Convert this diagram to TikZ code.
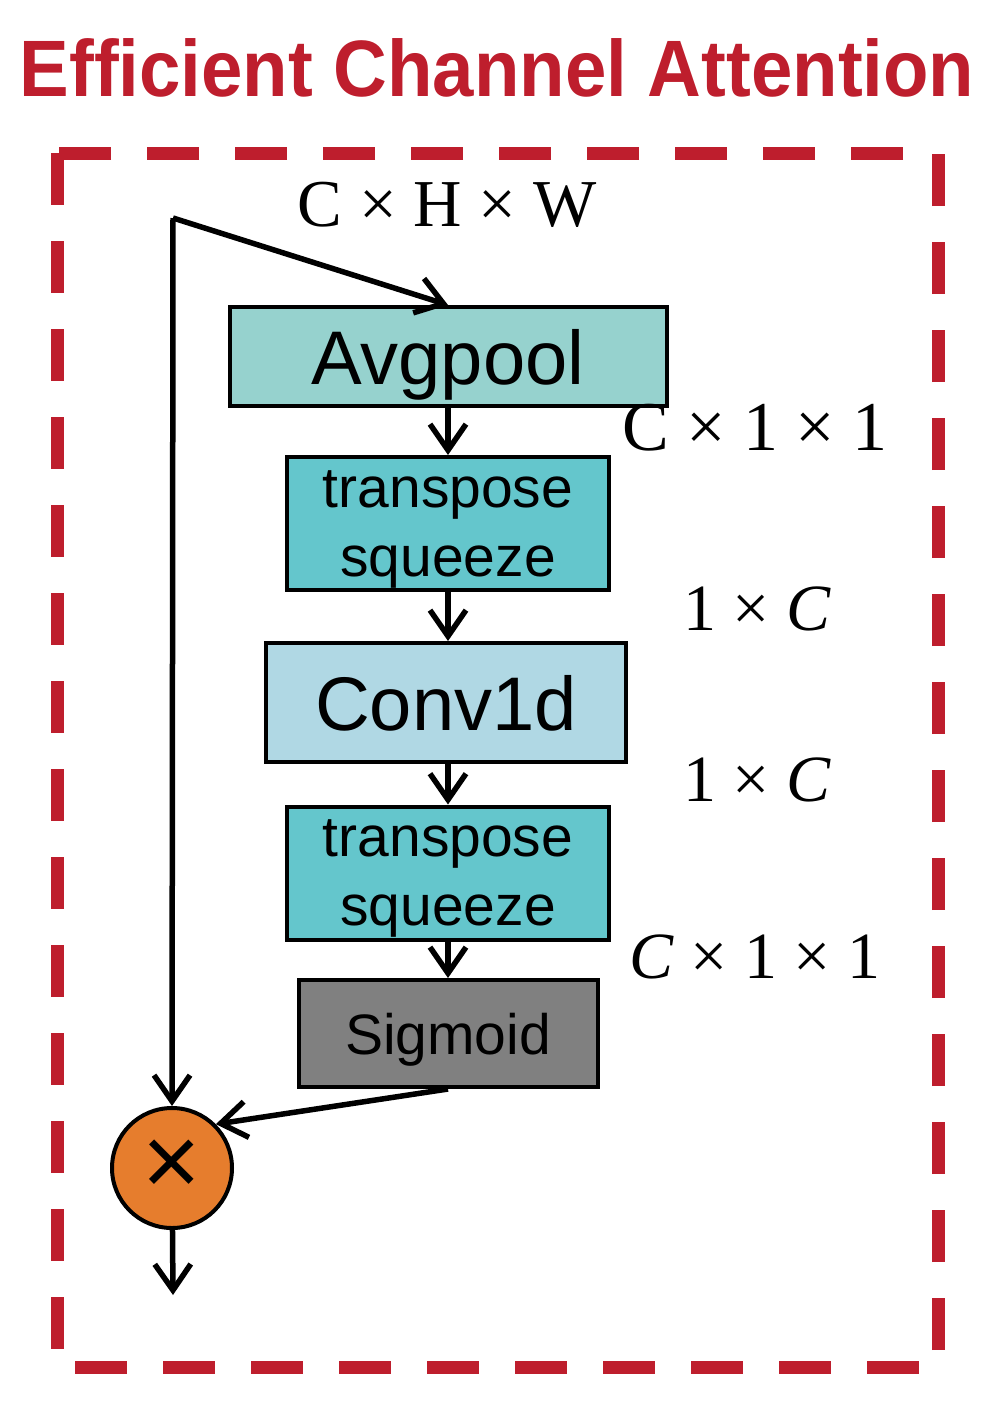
\documentclass[tikz,border=0pt]{standalone}
\usepackage{fontspec}
\setmainfont{Liberation Sans}
\newfontfamily\titlefont{Liberation Sans}[FakeStretch=0.93]
\newfontfamily\dimfont{Liberation Serif}
\usetikzlibrary{arrows.meta}
\definecolor{ecared}{RGB}{190,30,45}
\definecolor{poolteal}{RGB}{150,210,206}
\definecolor{transteal}{RGB}{100,198,204}
\definecolor{convblue}{RGB}{176,216,228}
\definecolor{siggray}{RGB}{128,128,128}
\definecolor{multorange}{RGB}{230,125,45}
\tikzset{
  block/.style={draw, line width=4pt, inner sep=0pt, text depth=0pt, align=center},
  flow/.style={line width=5.5pt, -{Straight Barb[length=26pt,width=36pt]}},
  dim/.style={font=\dimfont\fontsize{66}{70}\selectfont}
}

\begin{document}
\begin{tikzpicture}[x=1pt,y=1pt]
        \useasboundingbox (0,0) rectangle (985,-1405);
        \node[text=ecared, font=\titlefont\bfseries\fontsize{80}{84}\selectfont] (title) at (497,-68) {Efficient Channel Attention};
        \draw[ecared, line width=13pt, dash pattern=on 52pt off 36pt] (57,-153) rectangle (938,-1367);
        %
        \node[block, fill=poolteal, minimum width=437, minimum height=99, font=\fontsize{76}{80}\selectfont] (avgpool) at (448,-356.5) {Avgpool};
        \node[block, fill=transteal, minimum width=322, minimum height=133, font=\fontsize{57}{69}\selectfont] (trans1) at (448,-523.5) {transpose\\squeeze};
        \node[block, fill=convblue, minimum width=360, minimum height=119, font=\fontsize{76}{80}\selectfont] (conv) at (446,-702.5) {Conv1d};
        \node[block, fill=transteal, minimum width=322, minimum height=133, font=\fontsize{57}{69}\selectfont] (trans2) at (448,-873) {transpose\\squeeze};
        \node[block, fill=siggray, minimum width=299, minimum height=107, font=\fontsize{57}{60}\selectfont] (sigmoid) at (448,-1033.5) {Sigmoid};
        \node[circle, draw, line width=4pt, fill=multorange, minimum size=120, inner sep=0pt, font=\fontsize{100}{100}\selectfont] (mult) at (172,-1168) {×};
        %
        \coordinate (split) at (173,-218);
        \coordinate (out) at (173,-1295);
        \draw[flow] (split) -- (avgpool.north);
        \draw[flow] (split) -- (mult.north);
        \draw[flow] (avgpool) -- (trans1);
        \draw[flow] (trans1) -- (trans1 |- conv.north);
        \draw[flow] (trans1 |- conv.south) -- (trans2);
        \draw[flow] (trans2) -- (sigmoid);
        \draw[flow] (sigmoid.south) -- (mult.45);
        \draw[flow] (mult) -- (out);
        %
        \node[dim, font=\dimfont\fontsize{67}{70}\selectfont] (dimchw) at (447,-205) {C × H × W};
        \node[dim, font=\dimfont\fontsize{70}{72}\selectfont] (dimpool) at (755,-428) {C × 1 × 1};
        \node[dim] (dimtrans) at (757,-609) {1 × \textit{C}};
        \node[dim] (dimconv) at (757,-780) {1 × \textit{C}};
        \node[dim] (dimsig) at (755,-957) {\textit{C} × 1 × 1};
\end{tikzpicture}
\end{document}
